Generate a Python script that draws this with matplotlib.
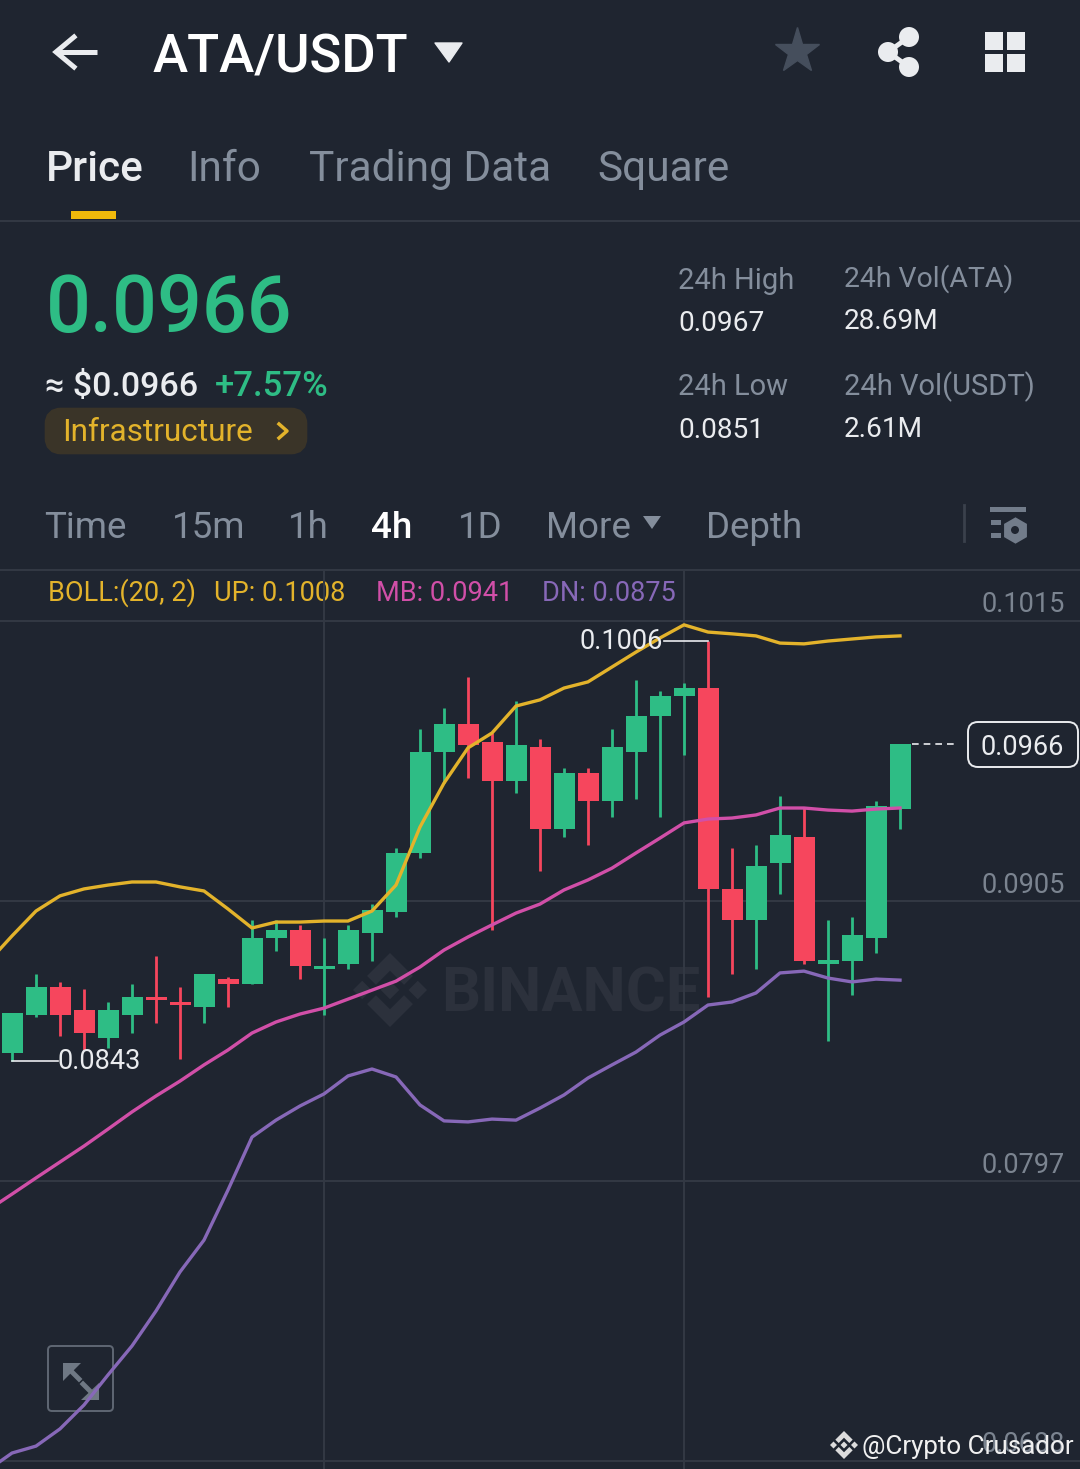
import matplotlib
matplotlib.use("Agg")
import matplotlib.pyplot as plt
from matplotlib.patches import Circle, FancyBboxPatch, Polygon, Rectangle
from matplotlib.transforms import ScaledTranslation

plt.rcParams['font.family'] = ['Roboto', 'DejaVu Sans']

# candles, oldest first
opens = [0.08468, 0.08616, 0.08725, 0.08636, 0.08527, 0.08616, 0.08686, 0.08667, 0.08647, 0.08756,
         0.08737, 0.08916, 0.08947, 0.08795, 0.08815, 0.08935, 0.09017, 0.09247, 0.09640, 0.09749,
         0.09679, 0.09527, 0.09660, 0.09340, 0.09558, 0.09449, 0.09640, 0.09780, 0.09858, 0.09889,
         0.09107, 0.08986, 0.09208, 0.09309, 0.08815, 0.08826, 0.08916, 0.09418]
highs = [0.08624, 0.08776, 0.08745, 0.08717, 0.08667, 0.08737, 0.08846, 0.08725, 0.08776, 0.08764,
         0.08986, 0.08986, 0.08967, 0.08916, 0.08967, 0.09048, 0.09266, 0.09730, 0.09811, 0.09932,
         0.09714, 0.09839, 0.09691, 0.09578, 0.09578, 0.09730, 0.09920, 0.09878, 0.09909, 0.10072,
         0.09266, 0.09278, 0.09469, 0.09422, 0.08986, 0.08996, 0.09449, 0.09671]
lows = [0.08437, 0.08608, 0.08535, 0.08480, 0.08488, 0.08546, 0.08585, 0.08445, 0.08585, 0.08647,
        0.08737, 0.08865, 0.08756, 0.08616, 0.08795, 0.08826, 0.08998, 0.09227, 0.09519, 0.09539,
        0.08947, 0.09480, 0.09177, 0.09309, 0.09278, 0.09387, 0.09457, 0.09387, 0.09628, 0.08686,
        0.08776, 0.08795, 0.09087, 0.08815, 0.08515, 0.08694, 0.08858, 0.09340]
closes = [0.08624, 0.08725, 0.08616, 0.08546, 0.08636, 0.08686, 0.08675, 0.08655, 0.08776, 0.08737,
          0.08916, 0.08947, 0.08807, 0.08807, 0.08947, 0.09025, 0.09247, 0.09640, 0.09749, 0.09667,
          0.09527, 0.09667, 0.09340, 0.09558, 0.09449, 0.09660, 0.09780, 0.09858, 0.09889, 0.09107,
          0.08986, 0.09196, 0.09317, 0.08826, 0.08830, 0.08928, 0.09430, 0.09671]

# bollinger bands, they start one candle before the first one on screen
boll_up = [0.08822, 0.08924, 0.09021, 0.09080, 0.09107, 0.09122, 0.09134, 0.09134, 0.09115, 0.09099,
           0.09029, 0.08955, 0.08978, 0.08978, 0.08982, 0.08982, 0.09021, 0.09122, 0.09348, 0.09519,
           0.09656, 0.09714, 0.09819, 0.09843, 0.09889, 0.09913, 0.09971, 0.10029, 0.10084, 0.10135,
           0.10107, 0.10100, 0.10092, 0.10064, 0.10061, 0.10072, 0.10080, 0.10088, 0.10092]
boll_mb = [0.07857, 0.07919, 0.07982, 0.08044, 0.08106, 0.08172, 0.08239, 0.08301, 0.08359, 0.08422,
           0.08480, 0.08546, 0.08589, 0.08620, 0.08643, 0.08678, 0.08713, 0.08748, 0.08803, 0.08869,
           0.08920, 0.08967, 0.09013, 0.09048, 0.09103, 0.09142, 0.09188, 0.09247, 0.09305, 0.09364,
           0.09379, 0.09383, 0.09395, 0.09422, 0.09422, 0.09414, 0.09410, 0.09418, 0.09422]
boll_dn = [0.06845, 0.06911, 0.06938, 0.07005, 0.07098, 0.07215, 0.07328, 0.07464, 0.07616, 0.07740,
           0.07935, 0.08141, 0.08207, 0.08262, 0.08309, 0.08379, 0.08406, 0.08375, 0.08266, 0.08204,
           0.08200, 0.08211, 0.08207, 0.08254, 0.08305, 0.08371, 0.08422, 0.08472, 0.08538, 0.08589,
           0.08655, 0.08667, 0.08702, 0.08780, 0.08787, 0.08760, 0.08745, 0.08756, 0.08752]

price_ticks = [0.1015, 0.0906, 0.0797, 0.0688]
price_labels = ["0.1015", "0.0905", "0.0797", "0.0688"]
time_ticks = [13, 28]
tabs = ["Price", "Info", "Trading Data", "Square"]
intervals = ["Time", "15m", "1h", "4h", "1D", "More", "Depth"]
boll_legend = ["BOLL:(20, 2)", "UP: 0.1008", "MB: 0.0941", "DN: 0.0875"]

BG = "#1f2530"
GRID = "#323843"
GREEN = "#2ebd85"
RED = "#f6465d"
YELLOW = "#e3b32b"
PINK = "#d14fa8"
PURPLE = "#8768b8"
GRAY = "#848e9c"
WHITE = "#eaecef"

W, H = 1080, 1469
fig = plt.figure(figsize=(W / 100, H / 100), dpi=100, facecolor=BG)


def pixel_axes(zorder):
    a = fig.add_axes([0, 0, 1, 1], zorder=zorder)
    a.set_xlim(0, W)
    a.set_ylim(H, 0)
    a.axis("off")
    return a


def put(a, x, y, s, size, color, weight="normal", ha="left"):
    return a.text(x, y, s, fontsize=size, color=color, fontweight=weight, ha=ha, va="baseline")


def logo(a, cx, cy, r, color):
    def p(pts):
        a.add_patch(Polygon([(cx + x * r, cy - y * r) for x, y in pts], closed=True, fc=color, ec="none"))
    chevron = [(0, 1), (0.62, 0.38), (0.38, 0.14), (0, 0.52), (-0.38, 0.14), (-0.62, 0.38)]
    p(chevron)
    p([(x, -y) for x, y in chevron])
    for dx in (-0.75, 0, 0.75):
        p([(dx, 0.25), (dx + 0.25, 0), (dx, -0.25), (dx - 0.25, 0)])


ui = pixel_axes(0)
top = pixel_axes(5)

# header
ui.plot([57, 97], [52, 52], color=WHITE, lw=3.6, solid_capstyle="butt")
ui.plot([74, 56, 74], [37, 52, 67], color=WHITE, lw=3.6, solid_joinstyle="miter")
put(ui, 153, 72, "ATA/USDT", 38, "white", weight="medium")
ui.add_patch(Polygon([(435, 43), (462, 43), (449, 62)], closed=True, fc=WHITE, ec=WHITE, lw=1, joinstyle="round"))
ui.plot([797], [51], marker="*", ms=34, color="#454e5c", mec="#454e5c")
share = [(909, 37), (888, 52), (909, 67)]
ui.plot([p[0] for p in share], [p[1] for p in share], color=WHITE, lw=3.5)
for c in share:
    ui.add_patch(Circle(c, 10, fc=WHITE, ec="none", zorder=3))
for x0 in (985, 1007):
    for y0 in (32, 54):
        ui.add_patch(Rectangle((x0, y0), 18, 18, fc=WHITE, ec="none"))

# tabs
tab_x = [46, 187, 309, 597]
for i in range(len(tabs)):
    put(ui, tab_x[i], 181, tabs[i], 30.5, WHITE if i == 0 else GRAY, weight="medium" if i == 0 else "normal")
ui.add_patch(Rectangle((71, 211), 45, 8, fc="#f0b90b", ec="none"))
ui.plot([0, W], [220.5, 220.5], color=GRID, lw=1.5)

# price block
put(ui, 46, 332, "0.0966", 57, GREEN, weight="medium")
put(ui, 45, 396, "≈ $0.0966", 24.5, WHITE, weight="medium")
put(ui, 215, 396, "+7.57%", 25, GREEN, weight="medium")
ui.add_patch(FancyBboxPatch((53, 416), 246, 30, boxstyle="round,pad=0,rounding_size=8",
                            fc="#3a3428", ec="#3a3428", lw=12))
put(ui, 62.5, 441, "Infrastructure", 22.7, YELLOW)
ui.plot([279, 287, 279], [424, 431, 438], color=YELLOW, lw=2.5)

stat_x = [678, 844]
put(ui, stat_x[0], 289, "24h High", 21, GRAY)
put(ui, stat_x[0], 331, "0.0967", 20.2, WHITE)
put(ui, stat_x[1], 287, "24h Vol(ATA)", 20.4, GRAY)
put(ui, stat_x[1], 329, "28.69M", 20.2, WHITE)
put(ui, stat_x[0], 395, "24h Low", 21, GRAY)
put(ui, stat_x[0], 438, "0.0851", 20.2, WHITE)
put(ui, stat_x[1], 395, "24h Vol(USDT)", 21, GRAY)
put(ui, stat_x[1], 437, "2.61M", 20.2, WHITE)

# interval row
interval_x = [44, 172, 288, 371, 458, 546, 706]
for i in range(len(intervals)):
    sel = intervals[i] == "4h"
    put(ui, interval_x[i], 538, intervals[i], 26.5, "white" if sel else GRAY, weight="medium" if sel else "normal")
ui.add_patch(Polygon([(643, 516), (661, 516), (652, 529)], closed=True, fc=GRAY, ec="none"))
ui.plot([964, 964], [505, 541], color="#3a414c", lw=2)
ui.add_patch(Rectangle((990, 507), 36, 5, fc="#727c8a", ec="none"))
ui.add_patch(Rectangle((991, 520), 10, 5, fc="#727c8a", ec="none"))
ui.add_patch(Rectangle((991, 533), 10, 5, fc="#727c8a", ec="none"))
ui.plot([1015], [530], marker="h", ms=19, color="#727c8a", mec="none")
ui.add_patch(Circle((1015, 530), 4, fc=BG, ec="none", zorder=3))

# legend row
legend_x = [48, 214, 376, 542]
legend_c = [YELLOW, YELLOW, PINK, PURPLE]
for i in range(len(boll_legend)):
    put(ui, legend_x[i], 601, boll_legend[i], 19.5, legend_c[i])

# watermark
logo(ui, 390, 990, 37, "#2c313c")
put(ui, 441, 1011, "BINANCE", 44, "#2c313c", weight="bold")

# chart
ppx = (price_ticks[0] - price_ticks[-1]) / 840
chart_top = 570
ax = fig.add_axes([0, 0, 1, (H - chart_top) / H], zorder=1)
ax.patch.set_alpha(0)
ax.set_xlim(-0.5, 44.5)
ax.set_ylim(price_ticks[0] - (H - 621) * ppx, price_ticks[0] + (621 - chart_top) * ppx)
for side in ("left", "bottom", "right"):
    ax.spines[side].set_visible(False)
ax.spines["top"].set_color(GRID)
ax.spines["top"].set_linewidth(1.5)
ax.set_xticks(time_ticks)
ax.set_xticklabels([])
ax.yaxis.tick_right()
ax.set_yticks(price_ticks, price_labels)
ax.tick_params(length=0)
ax.tick_params(axis="y", pad=-71, labelsize=19.5, labelcolor="#7b8490")
ax.grid(True, color=GRID, lw=1.5)
ax.set_axisbelow(True)
offset = ScaledTranslation(0, 19 / 100, fig.dpi_scale_trans)
for label in ax.get_yticklabels():
    label.set_transform(label.get_transform() + offset)

for i in range(len(opens)):
    color = GREEN if closes[i] >= opens[i] else RED
    ax.vlines(i, lows[i], highs[i], color=color, lw=2, zorder=2)
    ax.bar(i, abs(closes[i] - opens[i]), width=21 / 24, bottom=min(opens[i], closes[i]), color=color, zorder=3)

band_x = list(range(-1, len(opens)))
ax.plot(band_x, boll_up, color=YELLOW, lw=2.4, zorder=4)
ax.plot(band_x, boll_mb, color=PINK, lw=2.4, zorder=4)
ax.plot(band_x, boll_dn, color=PURPLE, lw=2.4, zorder=4)

# high / low / last markers
hi = highs.index(max(highs))
lo = lows.index(min(lows))
ax.plot([hi, hi - 1.85], [highs[hi], highs[hi]], color=WHITE, lw=1.2, zorder=4)
ax.text(hi - 1.9, highs[hi], "0.1006", color=WHITE, fontsize=19.5, ha="right", va="center", zorder=5)
ax.plot([lo, lo + 1.9], [lows[lo], lows[lo]], color=WHITE, lw=1.2, zorder=4)
ax.text(lo + 1.9, lows[lo], "0.0843", color=WHITE, fontsize=19.5, ha="left", va="center", zorder=5)
ax.plot([37.5, 39.4], [closes[-1], closes[-1]], color=WHITE, lw=1.2, ls=(0, (4, 3)), zorder=4)

# top layer
top.add_patch(FancyBboxPatch((968, 722), 110, 45, boxstyle="round,pad=0,rounding_size=10",
                             fc=BG, ec=WHITE, lw=1.4))
put(top, 981, 755, "0.0966", 19.5, WHITE)

ui.add_patch(FancyBboxPatch((48, 1346), 65, 65, boxstyle="round,pad=0,rounding_size=4", fc=BG, ec="#5f6773", lw=1.4))
ui.add_patch(Polygon([(63, 1363), (81, 1363), (63, 1381)], closed=True, fc="#6f7884", ec="none"))
ui.add_patch(Polygon([(99, 1383), (99, 1400), (81, 1400)], closed=True, fc="#6f7884", ec="none"))
ui.plot([68, 79], [1368, 1379], color="#6f7884", lw=3.5)
ui.plot([83, 94], [1384, 1395], color="#6f7884", lw=3.5)

logo(top, 844, 1445, 14, "#dcdcdc")
put(top, 862, 1454, "@Crypto Crusador", 18.7, "#f0f0f0")

fig.savefig("out.png", dpi=100, facecolor=BG)
